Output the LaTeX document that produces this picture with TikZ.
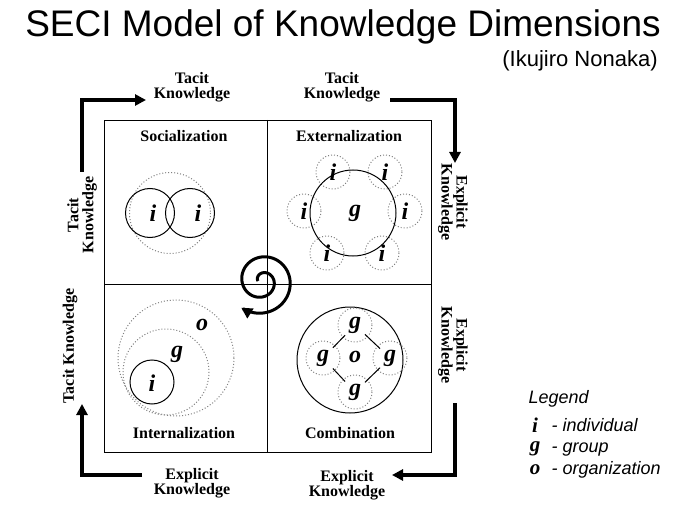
\documentclass[tikz,border=0pt]{standalone}
\usepackage{fontspec}
\setmainfont{Liberation Serif}
\setsansfont{Liberation Sans}
\usetikzlibrary{arrows.meta}
\begin{document}
\begin{tikzpicture}[x=1pt,y=-1pt,
  lab/.style={font=\fontsize{16}{15}\selectfont\bfseries,align=center},
  var/.style={font=\fontsize{24}{24}\selectfont\bfseries\itshape},
  lvar/.style={font=\fontsize{21}{21}\selectfont\bfseries\itshape,anchor=base},
  sol/.style={draw,line width=1pt},
  dot/.style={draw=gray,dotted,line width=1pt},
  big/.style={line width=3.2pt,-{Triangle[length=11pt,width=11pt]}},
  leg/.style={font=\sffamily\itshape\fontsize{18}{18}\selectfont,anchor=base west}]
\useasboundingbox (0,0) rectangle (680,505);
\node[font=\sffamily\fontsize{37}{37}\selectfont] (title) at (343,27) {SECI Model of Knowledge Dimensions};
\node[font=\sffamily\fontsize{22}{22}\selectfont] (auth) at (580,61) {(Ikujiro Nonaka)};
% frame
\draw[line width=0.9pt] (104,120) rectangle (431,452);
\draw[line width=0.9pt] (267,120) -- (267,452) (104,284) -- (431,284);
% outer arrows
\coordinate (a1) at (82,172); \coordinate (a1c) at (82,100); \coordinate (a1e) at (146,100);
\draw[big] (a1) -- (a1c) -- (a1e);
\coordinate (a2) at (390,100); \coordinate (a2c) at (455,100); \coordinate (a2e) at (455,163);
\draw[big] (a2) -- (a2c) -- (a2e);
\coordinate (a3) at (455,403); \coordinate (a3c) at (455,475); \coordinate (a3e) at (392,475);
\draw[big] (a3) -- (a3c) -- (a3e);
\coordinate (a4) at (142,475); \coordinate (a4c) at (82,475); \coordinate (a4e) at (82,404);
\draw[big] (a4) -- (a4c) -- (a4e);
% outer labels
\node[lab] (l1) at (192,87) {Tacit\\Knowledge};
\node[lab] (l2) at (342,87) {Tacit\\Knowledge};
\node[lab,rotate=-90] (l3) at (453,202) {Explicit\\Knowledge};
\node[lab,rotate=-90] (l4) at (453,345) {Explicit\\Knowledge};
\node[lab,rotate=90] (l5) at (82,215) {Tacit\\Knowledge};
\node[lab,rotate=90] (l6) at (70,346) {Tacit Knowledge};
\node[lab] (l7) at (192,483) {Explicit\\Knowledge};
\node[lab] (l8) at (347,485) {Explicit\\Knowledge};
% quadrant titles
\node[lab] (t1) at (184,136) {Socialization};
\node[lab] (t2) at (349,136) {Externalization};
\node[lab] (t3) at (184,433) {Internalization};
\node[lab] (t4) at (350,433) {Combination};
% socialization
\draw[dot] (170,213) circle (40.5);
\draw[sol] (150,213) circle (24.5);
\draw[sol] (190,213) circle (24.5);
\node[var] (s1) at (153,213) {i};
\node[var] (s2) at (198,213) {i};
% externalization
\foreach \x/\y in {333/172,385/172,304/211,405/211,327/253,382/253}{
  \draw[dot] (\x,\y) circle (17);
  \node[var] at (\x,\y) {i};}
\draw[sol] (353,213) circle (43);
\node[var] (eg) at (355,213) {g};
% internalization
\draw[dot] (176,358) circle (58);
\draw[dot] (166,372) circle (43);
\draw[sol] (152,382) circle (22);
\node[var] (io) at (202,325) {o};
\node[var] (ig) at (177,354) {g};
\node[var] (ii) at (152,383) {i};
% combination
\draw[sol] (350,360) circle (53);
\foreach \n/\x/\y in {gt/355/325,gl/323/358,gr/390/358,gb/355/392}{
  \draw[dot] (\x,\y) circle (17);
  \node[var,inner sep=3pt] (\n) at (\x,\y) {g};}
\node[var] (co) at (355,357) {o};
\draw[line width=1pt,shorten <=1pt,shorten >=1pt] (gt) -- (gl);
\draw[line width=1pt,shorten <=1pt,shorten >=1pt] (gt) -- (gr);
\draw[line width=1pt,shorten <=1pt,shorten >=1pt] (gl) -- (gb);
\draw[line width=1pt,shorten <=1pt,shorten >=1pt] (gr) -- (gb);
% spiral
\draw[line width=3pt,-{Triangle[length=11pt,width=11pt]}] plot[domain=180:848,samples=160,smooth]
  ({262+(4+(\x-180)/650*29)*cos(\x)},{281+(4+(\x-180)/650*29)*sin(\x)});
% legend
\node[leg] (lg) at (525,403) {Legend};
\node[lvar] (k1) at (535,432) {i};
\node[leg] at (548,431) {- individual};
\node[lvar] (k2) at (535,451) {g};
\node[leg] at (548,452) {- group};
\node[lvar] (k3) at (535,474) {o};
\node[leg] at (548,474) {- organization};
\end{tikzpicture}
\end{document}
